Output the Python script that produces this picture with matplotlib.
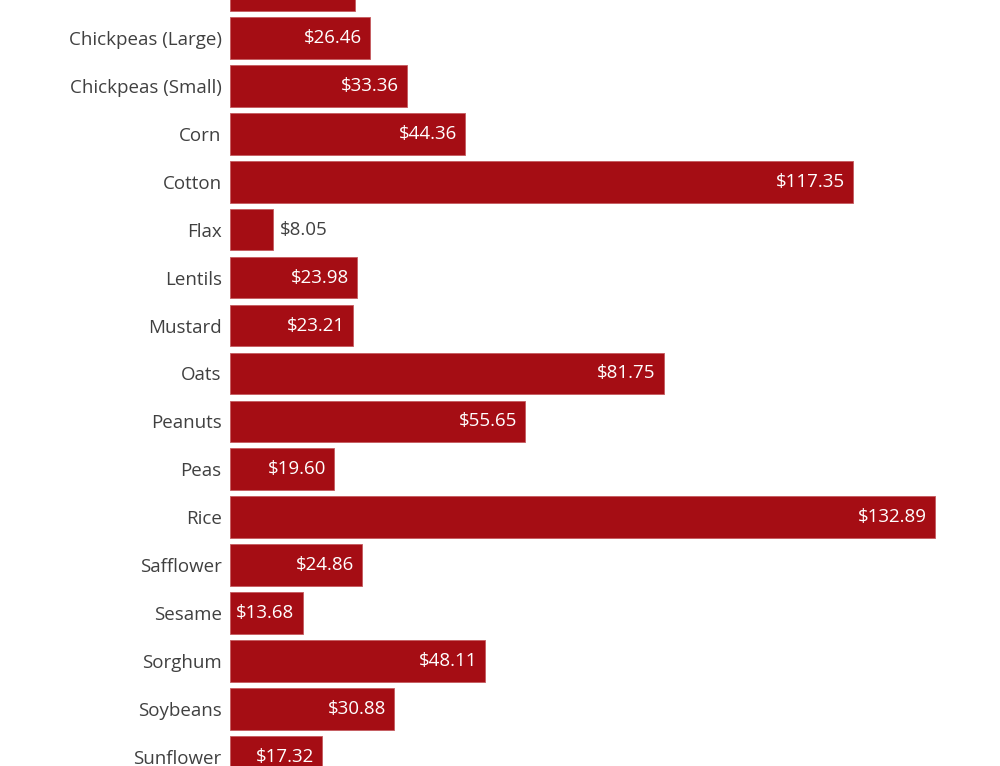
import matplotlib
matplotlib.use("Agg")
import matplotlib.pyplot as plt

crops = ["Canola", "Chickpeas (Large)", "Chickpeas (Small)", "Corn", "Cotton", "Flax",
         "Lentils", "Mustard", "Oats", "Peanuts", "Peas", "Rice", "Safflower",
         "Sesame", "Sorghum", "Soybeans", "Sunflower"]
values = [23.6, 26.46, 33.36, 44.36, 117.35, 8.05, 23.98, 23.21, 81.75, 55.65,
          19.60, 132.89, 24.86, 13.68, 48.11, 30.88, 17.32]

red = "#a50d14"
grey = "#404040"
plt.rcParams['font.family'] = ['Open Sans', 'DejaVu Sans']

fig = plt.figure(figsize=(10, 7.66), dpi=100)
ax = fig.add_axes([0.23, 0.0, 0.77, 1.0])

ypos = list(range(len(crops)))
ax.barh(ypos, values, height=0.87, color=red, edgecolor="#c45a5e", linewidth=0.6)

ax.set_yticks(ypos)
ax.set_yticklabels(crops, fontsize=13.5, color=grey)
ax.tick_params(axis="y", length=0, pad=6)
ax.set_xticks([])
ax.set_xlim(0, 770 / 5.305)
top = 10 / 47.93
ax.set_ylim(776 / 47.93, top)
for s in ax.spines.values():
    s.set_visible(False)

for y, v in zip(ypos, values):
    if y < top:
        continue  # row cut off above the frame
    txt = f"${v:.2f}"
    if v > 12:
        ax.text(v - 1.5, y, txt, ha="right", va="center", color="white", fontsize=13.5)
    else:
        ax.text(v + 1.4, y, txt, ha="left", va="center", color=grey, fontsize=13.5)

fig.savefig("out.png", dpi=100)
